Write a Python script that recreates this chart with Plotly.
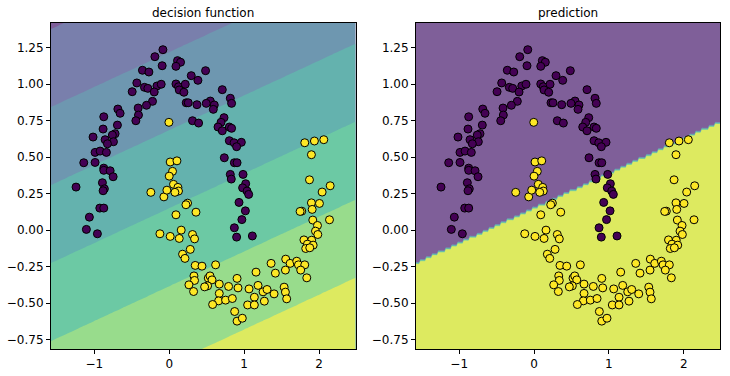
import numpy as np
import plotly.graph_objects as go

# ---- data ----
# class 0 (upper moon, purple)
x0 = [-0.084, -0.191, -0.094, -0.357, -0.271, -0.432, -0.330, -0.285, -0.164, -0.107,
      -0.200, -0.494, -0.223, -0.303, -0.414, -0.685, -0.655, -0.410, -0.873, -0.445,
      -0.691, -0.882, -0.722, -0.758, -1.016, -0.855, -0.744, -0.824,
      0.111, 0.151, 0.090, 0.485, 0.294, 0.383, 0.090, 0.124, 0.214, 0.134,
      0.196, 0.708, 0.815, 0.832, 0.548, 0.494, 0.601, 0.588, 0.227, 0.254,
      0.370, 0.311, 0.392, 0.731, 0.691, 0.651, 0.708, 0.802, 0.832, 0.802,
      0.865, 0.962,
      -0.989, -0.922, -0.838, -1.140, -0.989, -0.873, -0.873, -0.788, -0.748, -0.891,
      -0.865, -0.882, -1.243, -0.926, -0.873, -1.065, -1.105, -0.958,
      0.899, 0.735, 0.869, 0.905, 0.815, 0.828, 0.985, 1.020, 0.979, 1.038,
      1.060, 0.931, 1.016, 0.969, 0.869, 1.109, 0.899]
y0 = [1.237, 1.189, 1.127, 1.096, 1.084, 1.009, 0.979, 0.972, 0.988, 1.000,
      0.947, 0.949, 0.883, 0.856, 0.837, 0.830, 0.801, 0.789, 0.777, 0.750,
      0.720, 0.693, 0.661, 0.652, 0.638, 0.620, 0.606, 0.592,
      1.162, 1.151, 1.123, 1.093, 1.059, 1.027, 1.002, 0.983, 1.000, 0.961,
      0.945, 0.963, 0.904, 0.869, 0.885, 0.869, 0.858, 0.828, 0.873, 0.873,
      0.860, 0.750, 0.734, 0.771, 0.739, 0.707, 0.681, 0.707, 0.698, 0.613,
      0.599, 0.602,
      0.533, 0.542, 0.533, 0.462, 0.464, 0.425, 0.410, 0.407, 0.366, 0.325,
      0.283, 0.270, 0.295, 0.151, 0.151, 0.089, 0.005, -0.025,
      0.572, 0.496, 0.462, 0.462, 0.382, 0.350, 0.382, 0.318, 0.290, 0.268,
      0.245, 0.190, 0.132, 0.072, 0.016, -0.040, -0.048]

# class 1 (lower moon, yellow)
x1 = [-0.004, -0.245, -0.071, -0.124, 0.013, 0.103, 0.044, 0.000, 0.057, 0.116,
      0.124, 0.076, -0.031, 0.245, 0.223, 0.357, 0.090, 0.160, 0.013, 0.134,
      0.311, 0.338,
      0.178, 0.210, 0.281, 0.347, 0.437, 0.619, 0.330, 0.338, 0.263, 0.325,
      0.521, 0.544, 0.571, 0.512, 0.472, 0.668, 0.792, 0.905, 0.918, 0.668,
      0.659, 0.752, 0.842, 0.579, 0.873, 0.905, 0.975,
      1.808, 1.937, 2.062, 1.897, 1.871, 2.147, 2.040, 1.897, 2.004, 1.907,
      1.768, 1.746, 1.915, 2.138, 1.978, 1.951, 1.982, 1.797, 1.900,
      1.844, 1.920, 1.821, 1.875, 1.554, 1.613, 1.701, 1.724, 1.808, 1.754,
      1.550, 1.835, 1.359, 1.416, 1.158, 1.065, 1.185, 1.252, 1.305, 1.399,
      1.533, 1.550, 1.567, 1.136, 1.269, 1.046, 1.136]
y1 = [0.739, 0.259, 0.228, -0.025, 0.467, 0.475, 0.403, 0.370, 0.314, 0.293,
      0.268, 0.259, 0.274, 0.185, 0.174, 0.123, 0.105, 0.000, -0.043, -0.057,
      -0.030, -0.060,
      -0.165, -0.194, -0.132, -0.242, -0.247, -0.238, -0.314, -0.345, -0.375, -0.421,
      -0.329, -0.314, -0.341, -0.382, -0.389, -0.370, -0.386, -0.331, -0.396, -0.434,
      -0.485, -0.480, -0.469, -0.510, -0.558, -0.624, -0.604,
      0.599, 0.611, 0.620, 0.517, 0.345, 0.304, 0.261, 0.187, 0.183, 0.142,
      0.130, 0.128, 0.069, 0.071, 0.032, -0.007, -0.030, -0.067, -0.069,
      -0.096, -0.103, -0.126, -0.121, -0.199, -0.228, -0.213, -0.238, -0.238, -0.274,
      -0.274, -0.327, -0.228, -0.295, -0.288, -0.403, -0.379, -0.423, -0.407, -0.437,
      -0.391, -0.425, -0.471, -0.460, -0.487, -0.513, -0.513]

# linear decision function
coef = [0.446, -1.869]
intercept = 0.281
decision_levels = [-3, -2, -1, 0, 1, 2]
prediction_levels = [0.15, 0.3, 0.45, 0.6, 0.75, 0.9]
mesh_step = 0.02

x_range = [-1.577, 2.485]
y_range = [-0.815, 1.42]
x_ticks = [-1, 0, 1, 2]
y_ticks = [-0.75, -0.5, -0.25, 0.0, 0.25, 0.5, 0.75, 1.0, 1.25]
titles = ["decision function", "prediction"]

# ---- styling ----
band_hex = ['#481b6d', '#3f4889', '#306a8e', '#21918c', '#2db27d', '#6ccd5a', '#cfe11c']
alpha = 0.7


def blend(h):
    r, g, b = int(h[1:3], 16), int(h[3:5], 16), int(h[5:7], 16)
    return 'rgb(%d,%d,%d)' % tuple(round(alpha * c + (1 - alpha) * 255) for c in (r, g, b))


band_cols = [blend(h) for h in band_hex]
cscale = [[i / (len(band_cols) - 1), c] for i, c in enumerate(band_cols)]

# grids
gx = np.linspace(x_range[0], x_range[1], 80)
gy = np.linspace(y_range[0], y_range[1], 80)
GX, GY = np.meshgrid(gx, gy)
Zdec = coef[0] * GX + coef[1] * GY + intercept

px_ = np.arange(x_range[0], x_range[1] + mesh_step, mesh_step)
py_ = np.arange(y_range[0], y_range[1] + mesh_step, mesh_step)
PX, PY = np.meshgrid(px_, py_)
Zpred = ((coef[0] * PX + coef[1] * PY + intercept) > 0).astype(float)

fig = go.Figure()

fig.add_trace(go.Contour(
    x=gx, y=gy, z=Zdec, xaxis='x', yaxis='y',
    contours=dict(start=decision_levels[0], end=decision_levels[-1],
                  size=decision_levels[1] - decision_levels[0],
                  coloring='fill', showlines=False),
    line=dict(width=0), colorscale=cscale, showscale=False, hoverinfo='skip'))

fig.add_trace(go.Contour(
    x=px_, y=py_, z=Zpred, xaxis='x2', yaxis='y2',
    contours=dict(start=prediction_levels[0], end=prediction_levels[-1],
                  size=0.15, coloring='fill', showlines=False),
    line=dict(width=0), colorscale=cscale, showscale=False, hoverinfo='skip'))

mk = dict(size=8, line=dict(color='black', width=1))
for xa, ya in (('x', 'y'), ('x2', 'y2')):
    fig.add_trace(go.Scatter(x=x0, y=y0, mode='markers', xaxis=xa, yaxis=ya,
                             marker=dict(color='#440154', **mk), showlegend=False))
    fig.add_trace(go.Scatter(x=x1, y=y1, mode='markers', xaxis=xa, yaxis=ya,
                             marker=dict(color='#fde725', **mk), showlegend=False))

W, H = 730, 376
dom_y = [1 - 349 / H, 1 - 23 / H]
dom_x1 = [51 / W, 355.5 / W]
dom_x2 = [416 / W, 720 / W]

axis_common = dict(showline=True, linecolor='black', linewidth=1, mirror=True,
                   ticks='outside', ticklen=4, tickcolor='black', tickwidth=1,
                   showgrid=False, zeroline=False,
                   tickfont=dict(family='DejaVu Sans', size=12, color='black'))

fig.update_layout(
    width=W, height=H, margin=dict(l=0, r=0, t=0, b=0),
    paper_bgcolor='white', plot_bgcolor='white', showlegend=False,
    xaxis=dict(domain=dom_x1, range=x_range, tickvals=x_ticks, anchor='y', **axis_common),
    yaxis=dict(domain=dom_y, range=y_range, tickvals=y_ticks, tickformat='.2f', anchor='x', **axis_common),
    xaxis2=dict(domain=dom_x2, range=x_range, tickvals=x_ticks, anchor='y2', **axis_common),
    yaxis2=dict(domain=dom_y, range=y_range, tickvals=y_ticks, tickformat='.2f', anchor='x2', **axis_common),
)

for t, d in zip(titles, (dom_x1, dom_x2)):
    fig.add_annotation(text=t, x=(d[0] + d[1]) / 2, y=1 - 13 / H, xref='paper', yref='paper',
                       xanchor='center', yanchor='middle', showarrow=False,
                       font=dict(family='DejaVu Sans', size=12, color='black'))

fig.write_html("out.html")
